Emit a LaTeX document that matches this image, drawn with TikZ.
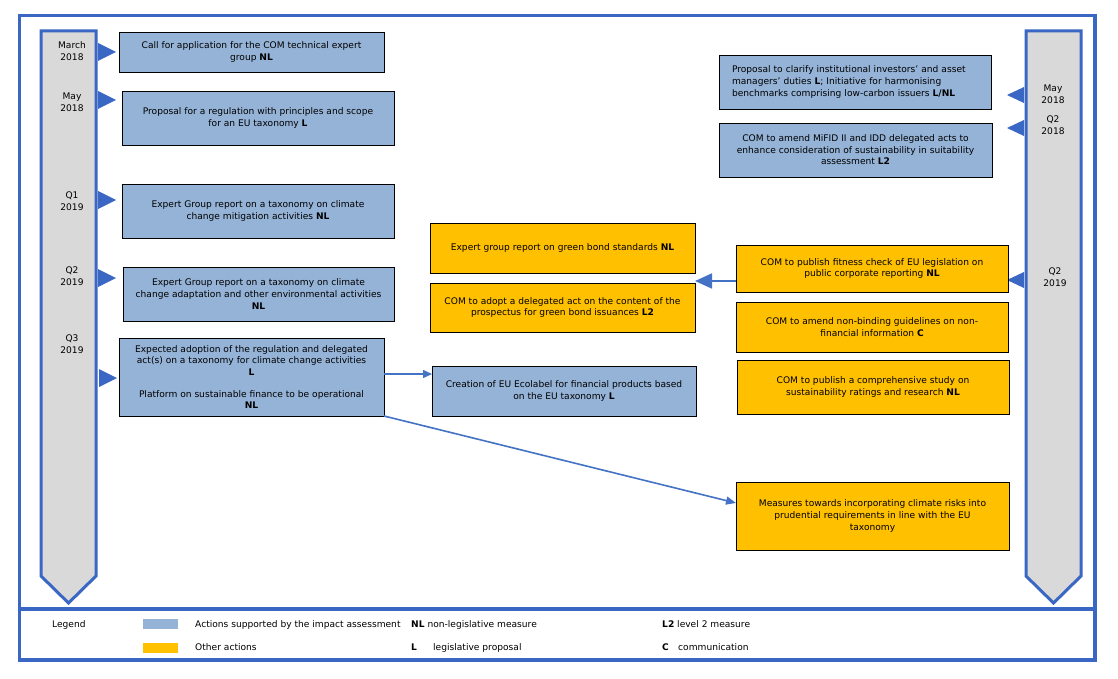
\documentclass[tikz,border=0pt]{standalone}
\usepackage{fontspec}
\setmainfont{DejaVu Sans}
\usetikzlibrary{arrows.meta}
\definecolor{frameblue}{RGB}{59,103,196}
\definecolor{lineblue}{RGB}{68,114,196}
\definecolor{boxblue}{RGB}{149,179,215}
\definecolor{boxorange}{RGB}{255,192,0}
\definecolor{bargray}{RGB}{217,217,217}
\newcommand{\dfont}{\fontsize{9.1}{11.6}\selectfont}
\begin{document}
\begin{tikzpicture}[x=1pt,y=-1pt,
  abox/.style={draw=black, line width=0.9pt, inner sep=0pt, outer sep=0pt, align=center, font=\dfont},
  bluebox/.style={abox, fill=boxblue},
  orangebox/.style={abox, fill=boxorange},
  datelbl/.style={font=\dfont, align=center, inner sep=0pt},
  legtxt/.style={font=\dfont, anchor=base west, inner sep=0pt},
  tri/.style={fill=frameblue},
  bar/.style={fill=bargray, draw=frameblue, line width=3pt, line join=miter},
  conn/.style={draw=lineblue}
]
\useasboundingbox (0,0) rectangle (1118,679);
\fill[white] (0,0) rectangle (1118,679);

% outer frame and legend separator
\draw[frameblue, line width=3.5pt] (19.5,15.5) rectangle (1095,660);
\draw[frameblue, line width=3.5pt] (19.5,609) -- (1095,609);

% timeline bars
\draw[bar] (41,31) -- (96,31) -- (96,576) -- (68.5,603) -- (41,576) -- cycle;
\draw[bar] (1026,31) -- (1081,31) -- (1081,576) -- (1053.5,603) -- (1026,576) -- cycle;

% left dates
\node[datelbl] (d1) at (72,51) {March\\2018};
\node[datelbl] (d2) at (72,102) {May\\2018};
\node[datelbl] (d3) at (72,201) {Q1\\2019};
\node[datelbl] (d4) at (72,276) {Q2\\2019};
\node[datelbl] (d5) at (72,344) {Q3\\2019};
% right dates
\node[datelbl] (d6) at (1053,94) {May\\2018};
\node[datelbl] (d7) at (1053,125) {Q2\\2018};
\node[datelbl] (d8) at (1055,277) {Q2\\2019};

% left markers
\fill[tri] (98,43) -- (116,52) -- (98,61) -- cycle;
\fill[tri] (98,91) -- (116,100) -- (98,109) -- cycle;
\fill[tri] (98,191) -- (116,200) -- (98,209) -- cycle;
\fill[tri] (98,269) -- (116,278) -- (98,287) -- cycle;
\fill[tri] (99,369) -- (117,378) -- (99,387) -- cycle;
% right markers
\fill[tri] (1024,87) -- (1007,95) -- (1024,103) -- cycle;
\fill[tri] (1024,120) -- (1007,128) -- (1024,136) -- cycle;
\fill[tri] (1024,272) -- (1007,280) -- (1024,288) -- cycle;

% left boxes
\node[bluebox, minimum width=265pt, minimum height=40pt] (L1) at (251.5,52)
 {Call for application for the COM technical expert\\group \textbf{NL}};
\node[bluebox, minimum width=272pt, minimum height=54pt] (L2) at (258,118)
 {Proposal for a regulation with principles and scope\\for an EU taxonomy \textbf{L}};
\node[bluebox, minimum width=272pt, minimum height=54pt] (L3) at (258,211)
 {Expert Group report on a taxonomy on climate\\change mitigation activities \textbf{NL}};
\node[bluebox, minimum width=271pt, minimum height=54pt] (L4) at (258.5,294)
 {Expert Group report on a taxonomy on climate\\change adaptation and other environmental activities\\\textbf{NL}};
\node[bluebox, minimum width=265pt, minimum height=78pt] (L5) at (251.5,377)
 {Expected adoption of the regulation and delegated\\act(s) on a taxonomy for climate change activities\\\textbf{L}\\[10pt]Platform on sustainable finance to be operational\\\textbf{NL}};

% middle boxes
\node[orangebox, minimum width=265pt, minimum height=50pt] (M1) at (562.5,248)
 {Expert group report on green bond standards \textbf{NL}};
\node[orangebox, minimum width=265pt, minimum height=49pt] (M2) at (562.5,307.5)
 {COM to adopt a delegated act on the content of the\\prospectus for green bond issuances \textbf{L2}};
\node[bluebox, minimum width=264pt, minimum height=50pt] (M3) at (564,391)
 {Creation of EU Ecolabel for financial products based\\on the EU taxonomy \textbf{L}};

% right boxes
\node[bluebox, minimum width=272pt, minimum height=54pt, align=left, text width=246pt] (R1) at (855,82)
 {Proposal to clarify institutional investors' and asset\\managers' duties \textbf{L}; Initiative for harmonising\\benchmarks comprising low-carbon issuers \textbf{L/NL}};
\node[bluebox, minimum width=273pt, minimum height=54pt] (R2) at (855.5,150)
 {COM to amend MiFID II and IDD delegated acts to\\enhance consideration of sustainability in suitability\\assessment \textbf{L2}};
\node[orangebox, minimum width=272pt, minimum height=47pt] (R3) at (872,268.5)
 {COM to publish fitness check of EU legislation on\\public corporate reporting \textbf{NL}};
\node[orangebox, minimum width=272pt, minimum height=50pt] (R4) at (872,327)
 {COM to amend non-binding guidelines on non-\\financial information \textbf{C}};
\node[orangebox, minimum width=272pt, minimum height=54pt] (R5) at (873,387)
 {COM to publish a comprehensive study on\\sustainability ratings and research \textbf{NL}};
\node[orangebox, minimum width=273pt, minimum height=68pt] (R6) at (872.5,516)
 {Measures towards incorporating climate risks into\\prudential requirements in line with the EU\\taxonomy};

% connectors
\coordinate (gA) at (0,281);
\coordinate (gB) at (0,374);
\draw[conn, line width=1.8pt, -{Triangle[length=17pt,width=15pt]}] (R3.west |- gA) -- (M1.east |- gA);
\draw[conn, line width=1.5pt, -{Triangle[length=9pt,width=8pt]}] (L5.east |- gB) -- (M3.west |- gB);
\draw[conn, line width=1.6pt, -{Triangle[length=10pt,width=8pt]}] (L5.south east) -- ([yshift=13pt]R6.west);

% legend
\node[legtxt] (lg) at (52,627) {Legend};
\fill[boxblue] (143,619) rectangle (178,629);
\fill[boxorange] (143,643) rectangle (178,653);
\node[legtxt] (lg1) at (195,627) {Actions supported by the impact assessment};
\node[legtxt] (lg2) at (195,650) {Other actions};
\node[legtxt] (lg3) at (411,627) {\textbf{NL} non-legislative measure};
\node[legtxt] (lg4) at (411,650) {\textbf{L}};
\node[legtxt] (lg5) at (433,650) {legislative proposal};
\node[legtxt] (lg6) at (662,627) {\textbf{L2} level 2 measure};
\node[legtxt] (lg7) at (662,650) {\textbf{C}};
\node[legtxt] (lg8) at (678,650) {communication};
\end{tikzpicture}
\end{document}
